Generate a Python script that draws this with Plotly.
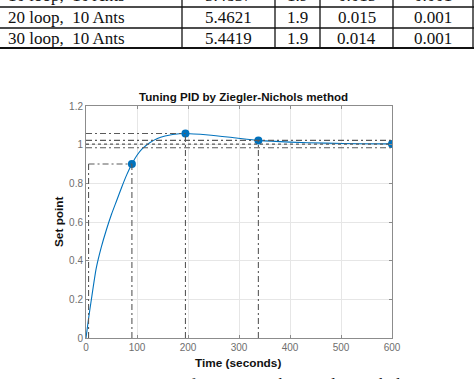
import plotly.graph_objects as go

# ---------------- data ----------------
time_s = [0, 5, 10, 20, 30, 40, 50, 60, 70, 80, 90, 100, 110, 125, 140, 155, 170, 195,
          240, 290, 338, 400, 470, 540, 600]
set_point = [0, 0.10, 0.19, 0.36, 0.47, 0.56, 0.64, 0.71, 0.78, 0.845, 0.90, 0.945, 0.978,
             1.01, 1.032, 1.045, 1.053, 1.058, 1.05, 1.036, 1.022, 1.013, 1.008, 1.005, 1.004]
marker_idx = [10, 17, 20, 24]          # rise point, peak, settling point, final value

rise_start = 5
band_hi, final_line, band_lo = 1.022, 1.003, 0.984

x_ticks = [0, 100, 200, 300, 400, 500, 600]
y_ticks = [0, 0.2, 0.4, 0.6, 0.8, 1.0, 1.2]
y_tick_text = ["0", "0.2", "0.4", "0.6", "0.8", "1", "1.2"]

table_rows = ["10 loop,  10 Ants", "20 loop,  10 Ants", "30 loop,  10 Ants"]
table_c1 = ["5.4837", "5.4621", "5.4419"]
table_c2 = ["1.9", "1.9", "1.9"]
table_c3 = ["0.015", "0.015", "0.014"]
table_c4 = ["0.001", "0.001", "0.001"]

title = "Tuning PID by Ziegler-Nichols method"
x_title = "Time (seconds)"
y_title = "Set point"
caption = "Figure 4.  Step response of tuning PID by Ziegler-Nichols"

# ---------------- layout geometry ----------------
W, H = 474, 379
L, R, T, B = 86, 82, 106, 41
PW, PH = W - L - R, H - T - B


def px(x):
    return (x - L) / PW


def py(y):
    return (H - B - y) / PH


BLUE = "#0072BD"
REF = "#5a5a5a"
AX = "#8c8c8c"
TXT = "#6e6e6e"

fig = go.Figure()
fig.add_trace(go.Scatter(x=time_s, y=set_point, mode="lines",
                         line=dict(color=BLUE, width=1.1, shape="spline", smoothing=0.6),
                         hoverinfo="skip", showlegend=False))
fig.add_trace(go.Scatter(x=[time_s[i] for i in marker_idx], y=[set_point[i] for i in marker_idx],
                         mode="markers", marker=dict(color=BLUE, size=8),
                         showlegend=False))

dashdot = "6px,3px,2px,3px"
rise_t, rise_y = time_s[marker_idx[0]], set_point[marker_idx[0]]
peak_t, peak_y = time_s[marker_idx[1]], set_point[marker_idx[1]]
sett_t, sett_y = time_s[marker_idx[2]], set_point[marker_idx[2]]
end_t = time_s[-1]

ref_lines = [
    (rise_start, 0, rise_start, rise_y, dashdot),
    (rise_start, rise_y, rise_t, rise_y, dashdot),
    (rise_t, 0, rise_t, rise_y, dashdot),
    (0, peak_y, peak_t, peak_y, dashdot),
    (peak_t, 0, peak_t, peak_y, dashdot),
    (sett_t, 0, sett_t, sett_y, dashdot),
    (0, band_hi, end_t, band_hi, dashdot),
    (0, band_lo, end_t, band_lo, dashdot),
    (0, final_line, end_t, final_line, "dot"),
]
for x0, y0, x1, y1, d in ref_lines:
    fig.add_shape(type="line", xref="x", yref="y", x0=x0, y0=y0, x1=x1, y1=y1,
                  line=dict(color=REF, width=1.1, dash=d), layer="above")

# ---------------- table (cropped top part of page) ----------------
for yy, w in [(7, 1.3), (28, 1.3), (48, 1.8)]:
    fig.add_shape(type="line", xref="paper", yref="paper", x0=px(0), x1=px(W), y0=py(yy), y1=py(yy),
                  line=dict(color="#111111", width=w))
for xx in [182, 275, 320, 393, 473]:
    fig.add_shape(type="line", xref="paper", yref="paper", x0=px(xx), x1=px(xx), y0=py(-5), y1=py(48),
                  line=dict(color="#111111", width=1.3))

row_centers = [-4.5, 17.5, 38]
col_centers = [228.5, 297.5, 356.5, 433]
tfont = dict(family="Liberation Serif", size=17, color="#111111")
for r, yc in enumerate(row_centers):
    fig.add_annotation(xref="paper", yref="paper", x=px(6), y=py(yc), text=table_rows[r],
                       showarrow=False, xanchor="left", yanchor="middle", font=tfont)
    for c, col in enumerate([table_c1, table_c2, table_c3, table_c4]):
        fig.add_annotation(xref="paper", yref="paper", x=px(col_centers[c]), y=py(yc), text=col[r],
                           showarrow=False, xanchor="center", yanchor="middle", font=tfont)

# ---------------- titles ----------------
fig.add_annotation(xref="paper", yref="paper", x=px(243), y=py(96.5), text="<b>%s</b>" % title,
                   showarrow=False, xanchor="center", yanchor="middle",
                   font=dict(family="Liberation Sans", size=11.6, color="#111111"))
fig.add_annotation(xref="paper", yref="paper", x=px(238), y=py(362.5), text="<b>%s</b>" % x_title,
                   showarrow=False, xanchor="center", yanchor="middle",
                   font=dict(family="Liberation Sans", size=11.8, color="#111111"))
fig.add_annotation(xref="paper", yref="paper", x=px(59), y=py(222), text="<b>%s</b>" % y_title,
                   showarrow=False, xanchor="center", yanchor="middle", textangle=-90,
                   font=dict(family="Liberation Sans", size=11.8, color="#111111"))
fig.add_annotation(xref="paper", yref="paper", x=px(11), y=py(372.5), text=caption,
                   showarrow=False, xanchor="left", yanchor="top",
                   font=dict(family="Liberation Serif", size=17, color="#111111"))

axis_common = dict(showline=True, linecolor=AX, linewidth=1, mirror="ticks", ticks="inside",
                   ticklen=3, tickcolor=AX, showgrid=True, gridcolor="#e6e6e6", gridwidth=1,
                   zeroline=False, tickfont=dict(family="Liberation Sans", size=10, color=TXT))
fig.update_xaxes(range=[0, 600], tickvals=x_ticks, **axis_common)
fig.update_yaxes(range=[0, 1.2], tickvals=y_ticks, ticktext=y_tick_text, **axis_common)

fig.update_layout(width=W, height=H, margin=dict(l=L, r=R, t=T, b=B),
                  paper_bgcolor="white", plot_bgcolor="white", showlegend=False)

fig.write_html("out.html", config={"displayModeBar": False},
               post_script="document.body.style.margin='0';document.body.style.overflow='hidden';")
